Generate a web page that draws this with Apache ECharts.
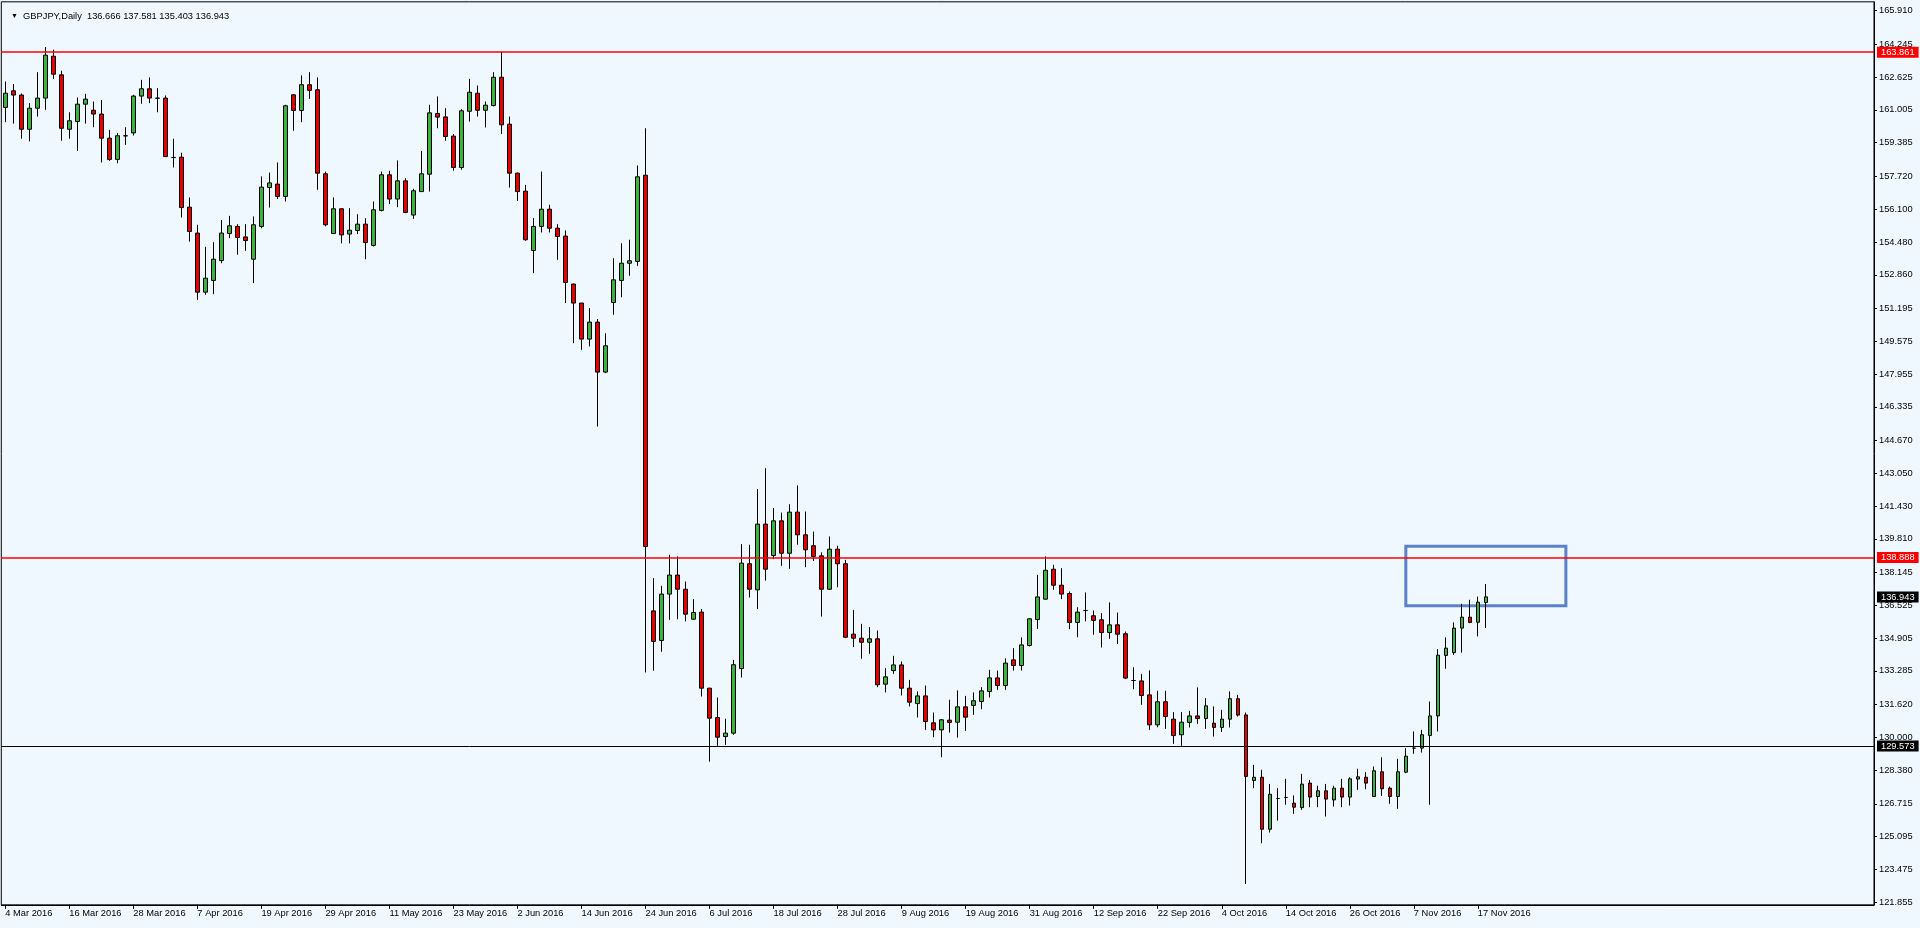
<!DOCTYPE html>
<html><head><meta charset="utf-8">
<script src="https://cdn.jsdelivr.net/npm/echarts@6/dist/echarts.min.js"></script>
<style>html,body{margin:0;padding:0;background:#f0f8ff;}#c{width:1920px;height:928px;}</style>
</head><body><div id="c"></div>
<script>
// ---- data ----
const symbolName = 'GBPJPY,Daily';
const firstDate = '2016-03-04';   // first daily bar; bars are weekdays only
const futureSlots = 48;           // empty chart shift on the right
const opens = [161.13,161.95,161.74,160.05,161.09,161.59,163.66,162.74,160.05,160.43,161.29,160.99,160.80,159.61,158.56,159.72,159.87,161.69,162.05,161.58,
161.59,158.65,158.67,156.20,154.92,152.00,152.58,153.56,154.90,155.25,154.73,153.63,155.25,157.17,157.34,156.73,161.75,160.98,162.25,162.00,
157.85,154.90,156.12,154.87,155.05,155.36,154.31,156.04,157.80,156.60,157.50,155.81,156.97,157.83,160.83,160.66,159.71,158.16,160.94,161.83,
160.99,161.22,162.62,160.30,157.88,156.99,154.06,155.25,156.10,155.16,154.77,152.40,151.46,149.68,150.52,148.05,151.49,152.58,153.43,153.52,
157.78,136.25,134.79,137.08,138.02,137.32,135.84,136.19,132.43,130.98,130.04,130.21,133.40,138.58,137.29,140.54,138.99,140.70,139.10,141.13,
140.01,139.47,138.97,137.32,139.30,138.58,135.10,134.90,134.70,134.87,132.63,133.30,133.58,132.43,131.67,132.05,130.72,130.37,130.85,130.75,
131.51,131.58,131.77,132.27,132.94,132.56,133.83,133.55,134.54,135.82,136.83,138.31,137.52,137.11,135.68,136.27,136.01,135.81,135.18,135.56,
135.12,132.81,132.79,132.10,130.62,131.76,130.90,130.13,130.74,131.06,130.93,130.70,130.49,130.90,131.91,131.11,127.87,128.03,125.46,126.98,
127.03,126.75,126.53,127.74,127.08,127.36,126.91,127.49,127.05,127.94,128.03,127.08,128.30,127.49,127.08,128.28,129.47,129.47,130.09,131.06,
134.05,134.19,135.40,135.94,135.69,136.666];
const highs = [162.41,162.28,161.82,161.34,162.87,164.11,163.98,162.94,160.89,161.62,161.80,161.42,161.50,160.02,159.86,160.15,161.75,162.49,162.61,162.08,
161.72,159.58,158.89,156.68,155.33,154.24,154.47,155.57,155.77,155.36,155.36,155.74,157.72,157.91,158.41,161.26,161.78,162.71,162.87,162.61,
157.96,156.68,156.15,156.15,155.85,155.66,156.48,157.96,158.00,158.51,157.63,157.11,158.98,161.26,161.67,161.09,159.81,161.04,162.54,162.21,
161.42,162.87,163.89,160.68,157.91,157.30,155.66,157.96,156.32,155.36,155.05,152.42,151.47,151.21,150.67,149.97,153.68,154.42,154.59,158.26,
160.10,137.87,137.49,139.02,138.94,137.70,136.83,136.34,132.45,131.97,130.92,133.83,139.55,139.52,142.27,143.30,141.33,141.11,141.52,142.45,
141.16,140.17,139.14,139.93,139.47,138.77,136.30,135.61,135.45,135.28,133.42,134.03,133.75,132.84,132.27,132.56,131.23,130.90,131.86,132.32,
132.05,132.22,132.48,133.34,133.30,133.91,134.41,134.94,135.89,138.03,138.94,138.53,138.36,137.21,136.43,137.16,136.27,136.14,136.67,136.17,
135.23,133.47,133.14,133.31,132.30,132.30,131.25,131.25,131.31,132.47,131.94,131.53,131.36,132.27,132.10,131.23,128.64,128.40,127.70,127.49,
127.95,127.13,128.20,127.90,127.61,127.70,127.61,127.95,128.03,128.45,128.28,128.56,129.02,127.57,128.94,129.47,130.29,130.37,131.77,134.36,
134.94,135.68,136.60,136.80,136.96,137.581];
const lows = [160.40,160.33,159.58,159.45,160.68,161.01,162.54,159.48,159.58,158.98,160.33,160.15,158.41,158.49,158.37,159.28,159.74,161.31,161.34,160.89,
158.67,158.16,155.69,154.50,151.62,151.87,151.90,153.43,154.67,153.85,154.04,152.45,155.16,156.18,156.60,156.48,159.97,160.40,161.55,157.06,
155.25,154.87,154.41,154.41,154.87,153.63,154.26,155.99,156.35,156.20,155.90,155.62,156.95,156.97,160.10,159.48,158.00,158.05,160.43,160.68,
160.14,161.18,159.82,157.17,156.51,154.54,152.94,154.95,154.95,153.60,151.46,149.48,149.15,149.32,145.36,148.00,150.88,151.75,152.81,153.30,
133.21,133.29,134.23,135.81,135.84,135.73,135.81,132.02,128.80,129.58,129.63,130.13,132.96,136.91,136.34,137.75,138.81,138.48,138.33,139.52,
138.41,138.72,135.97,137.29,137.42,134.90,134.46,133.88,134.13,132.48,132.22,133.14,132.07,131.53,130.98,130.37,130.01,129.02,130.24,129.99,
130.32,131.11,131.39,131.97,132.35,132.35,133.30,133.30,134.49,135.36,136.80,137.29,136.83,135.35,134.95,135.73,135.07,134.44,134.87,134.61,
132.88,132.38,131.61,130.37,130.50,130.42,129.68,129.58,130.49,130.67,130.42,130.04,130.27,130.49,131.03,122.76,127.49,124.77,125.30,125.89,
126.67,126.22,126.42,126.55,126.55,126.09,126.58,126.55,126.63,127.41,127.44,127.05,127.11,126.72,126.47,128.23,129.19,129.25,126.67,130.29,
133.39,134.08,134.19,135.64,134.99,135.403];
const closes = [161.83,161.74,160.05,161.09,161.59,163.71,162.77,160.10,160.47,161.29,161.54,160.80,159.61,158.56,159.73,159.73,161.69,162.05,161.59,161.59,
158.70,158.66,156.18,155.00,152.00,152.69,153.63,154.92,155.28,154.70,154.55,155.33,157.19,157.40,156.73,161.21,160.98,162.25,161.97,157.88,
155.33,156.12,154.83,155.06,155.36,154.45,156.07,157.80,156.60,157.50,155.94,157.01,157.85,160.86,160.65,159.69,158.16,160.96,161.88,160.99,
161.24,162.62,160.27,157.88,156.97,154.59,155.25,156.10,155.16,154.75,152.48,151.46,149.68,150.52,148.05,149.35,152.61,153.43,153.55,157.70,
139.43,134.74,137.08,138.02,137.32,136.09,136.17,132.43,130.95,130.01,130.21,133.59,138.61,137.32,140.54,138.31,140.70,139.10,141.13,140.01,
139.27,138.94,137.32,139.30,138.58,134.95,134.90,134.70,134.87,132.60,132.99,133.58,132.43,131.74,132.05,130.78,130.37,130.87,130.74,131.51,
131.00,131.81,132.30,132.94,132.56,133.67,133.55,134.57,135.86,136.94,138.26,137.52,137.08,135.68,136.19,136.27,135.78,135.18,135.56,135.10,
132.93,132.81,132.07,130.62,131.76,131.03,130.09,130.75,131.06,130.93,131.56,130.49,130.90,131.91,131.10,128.07,128.03,125.46,127.19,126.98,
127.03,126.55,127.69,127.05,127.36,126.95,127.49,127.05,127.95,128.05,127.74,128.35,127.46,127.08,128.30,129.07,129.47,130.13,131.06,134.06,
134.41,135.40,135.94,135.68,136.68,136.943];
const priceTicks = [165.910,164.245,162.625,161.005,159.385,157.720,156.100,154.480,152.860,151.195,149.575,147.955,146.335,144.670,
143.050,141.430,139.810,138.145,136.525,134.905,133.285,131.620,130.000,128.380,126.715,125.095,123.475,121.855];
const redLevels = [163.861, 138.888];
const blackLevels = [129.573];
const lastPrice = 136.943;
const boxDates = ['4 Nov 2016', '2 Dec 2016'];
const boxPrices = [139.44, 136.50];

// ---- build ----
const MON = ['Jan','Feb','Mar','Apr','May','Jun','Jul','Aug','Sep','Oct','Nov','Dec'];
const nBars = opens.length;
const dates = [];
(function(){
  const d = new Date(firstDate + 'T00:00:00Z');
  while (dates.length < nBars + futureSlots) {
    const wd = d.getUTCDay();
    if (wd !== 0 && wd !== 6) dates.push(d.getUTCDate() + ' ' + MON[d.getUTCMonth()] + ' ' + d.getUTCFullYear());
    d.setUTCDate(d.getUTCDate() + 1);
  }
})();
const candles = opens.map((o, i) => [o, closes[i], lows[i], highs[i]]);
const FONT = 'Liberation Sans';
const FS = 9.3;
const showDate = (idx) => idx < nBars && idx % 8 === 0;

const lvlLabel = (bg, v) => ({
  show: true, position: 'end', distance: 3, formatter: v.toFixed(3),
  color: '#fff', backgroundColor: bg, padding: [1, 4, 0, 4], lineHeight: 10,
  fontFamily: FONT, fontSize: FS
});
const markLineData = [
  ...redLevels.map(v => ({ yAxis: v, lineStyle: { color: '#ff0000', width: 1.5, type: 'solid', opacity: 1 }, label: lvlLabel('#ff0000', v) })),
  ...blackLevels.map(v => ({ yAxis: v, lineStyle: { color: '#000000', width: 1, type: 'solid', opacity: 1 }, label: lvlLabel('#000000', v) })),
  { yAxis: lastPrice, lineStyle: { color: 'rgba(0,0,0,0)', width: 0 }, label: lvlLabel('#000000', lastPrice) }
];

const chart = echarts.init(document.getElementById('c'), null, { renderer: 'canvas' });
chart.setOption({
  animation: false,
  backgroundColor: '#f0f8ff',
  title: {
    text: '{t|▼}  ' + symbolName + '  ' + [opens[nBars-1], highs[nBars-1], lows[nBars-1], closes[nBars-1]].map(v => v.toFixed(3)).join(' '),
    left: 6, top: 7,
    textStyle: { fontFamily: FONT, fontSize: FS, fontWeight: 'normal', color: '#000',
      rich: { t: { fontSize: 7, color: '#000', fontFamily: FONT } } }
  },
  grid: { left: 1.3, right: 46, top: 1.84, bottom: 23.16, show: true, borderColor: '#000', borderWidth: 1, backgroundColor: 'transparent', outerBoundsMode: 'none', containLabel: false },
  xAxis: {
    type: 'category', data: dates, boundaryGap: true,
    axisLine: { show: true, lineStyle: { color: '#000', width: 1 } },
    axisTick: { show: true, interval: showDate, alignWithLabel: true, length: 4, lineStyle: { color: '#000' } },
    axisLabel: { interval: showDate, align: 'left', margin: 4, color: '#000', fontFamily: FONT, fontSize: FS },
    splitLine: { show: false }
  },
  yAxis: {
    type: 'value', position: 'right', min: 121.725, max: 166.346, scale: true,
    axisLine: { show: true, lineStyle: { color: '#000', width: 1 } },
    axisTick: { show: true, length: 3, customValues: priceTicks, lineStyle: { color: '#000' } },
    axisLabel: { customValues: priceTicks, formatter: v => v.toFixed(3), margin: 5, color: '#000', fontFamily: FONT, fontSize: FS },
    splitLine: { show: false }
  },
  series: [{
    type: 'candlestick',
    data: candles,
    barWidth: 4,
    itemStyle: { color: '#3cb43c', color0: '#e60000', borderColor: '#000', borderColor0: '#000', borderColorDoji: '#000', borderWidth: 1 },
    emphasis: { disabled: true },
    markLine: { silent: true, symbol: ['none', 'none'], data: markLineData, animation: false },
    markArea: {
      silent: true,
      itemStyle: { color: 'rgba(0,0,0,0)', borderColor: '#5a82c8', borderWidth: 3 },
      data: [[{ xAxis: boxDates[0], yAxis: boxPrices[0] }, { xAxis: boxDates[1], yAxis: boxPrices[1] }]]
    }
  }]
});
</script></body></html>
